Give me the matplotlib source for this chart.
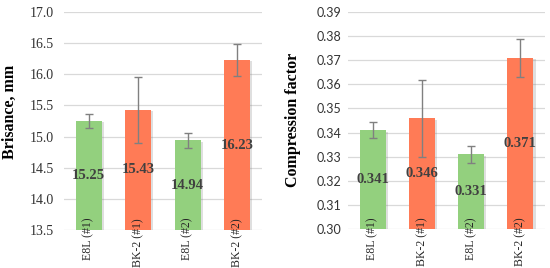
import matplotlib
matplotlib.use('Agg')
import matplotlib.pyplot as plt
import matplotlib.transforms as mtransforms
import matplotlib.patheffects as pe
import numpy as np

# data
categories = ['E8L (#1)', 'BK-2 (#1)', 'E8L (#2)', 'BK-2 (#2)']
brisance = [15.25, 15.43, 14.94, 16.23]
brisance_err = [0.11, 0.53, 0.12, 0.25]
compression = [0.341, 0.346, 0.331, 0.371]
compression_err = [0.0033, 0.016, 0.0035, 0.008]

green = '#93D07E'
orange = '#FF7B56'
bar_colors = [green, orange, green, orange]


def draw_panel(fig, ax, values, errors, ylim, yticks, fmt, ylabel, label_fmt,
               tick_font, tick_size, tick_pad, label_xy):
    x = np.arange(len(categories))
    bars = ax.bar(x, values, width=0.53, color=bar_colors, zorder=2)
    for b in bars:
        b.set_path_effects([pe.SimplePatchShadow(offset=(1.5, -1.0), shadow_rgbFace='#808080', alpha=0.25),
                            pe.Normal()])
    ax.errorbar(x, values, yerr=errors, fmt='none', ecolor='#808080',
                elinewidth=1.0, capsize=3, capthick=1.0, zorder=3)
    for xi, v in zip(x, values):
        mid = (ylim[0] + v) / 2
        ax.text(xi, mid, label_fmt.format(v), ha='center', va='center',
                fontsize=10.5, fontweight='bold', family='Liberation Serif',
                color='#404040', zorder=4)
    ax.set_ylim(*ylim)
    ax.set_xlim(-0.5, len(categories) - 0.5)
    ax.set_yticks(yticks)
    ax.set_yticklabels([fmt.format(t) for t in yticks],
                       family=tick_font, fontsize=tick_size, color='#333333')
    ax.set_xticks([])
    # category labels: rotated, poking up into the plot area
    trans = mtransforms.blended_transform_factory(ax.transData, ax.transAxes)
    off = mtransforms.ScaledTranslation(0, 12 / 100, fig.dpi_scale_trans)
    for xi, cat in zip(x, categories):
        ax.text(xi, 0, cat, rotation=90, ha='center', va='top',
                transform=trans + off, family='Liberation Serif',
                fontsize=8.5, color='#262626', zorder=5, clip_on=False)
    ax.tick_params(axis='y', length=0, pad=tick_pad)
    ax.grid(axis='y', color='#D9D9D9', linewidth=0.9, zorder=0)
    ax.set_axisbelow(True)
    for s in ax.spines.values():
        s.set_visible(False)
    ax.set_ylabel(ylabel, family='Liberation Serif', fontweight='bold',
                  fontsize=11.5, color='black')
    ax.yaxis.set_label_coords(*label_xy)


fig = plt.figure(figsize=(5.5, 2.68), dpi=100)
ax1 = fig.add_axes([0.1164, 0.1418, 0.36, 0.8132])
ax2 = fig.add_axes([0.6327, 0.1455, 0.3583, 0.8095])

draw_panel(fig, ax1, brisance, brisance_err, (13.5, 17.0),
           np.arange(13.5, 17.01, 0.5), '{:.1f}', 'Brisance, mm', '{:.2f}',
           'Liberation Serif', 10, 7, (-0.235, 0.544))
draw_panel(fig, ax2, compression, compression_err, (0.30, 0.39),
           np.arange(0.30, 0.3901, 0.01), '{:.2f}', 'Compression factor', '{:.3f}',
           'Lato', 9, 4.5, (-0.238, 0.502))

fig.savefig('out.png', dpi=100)
